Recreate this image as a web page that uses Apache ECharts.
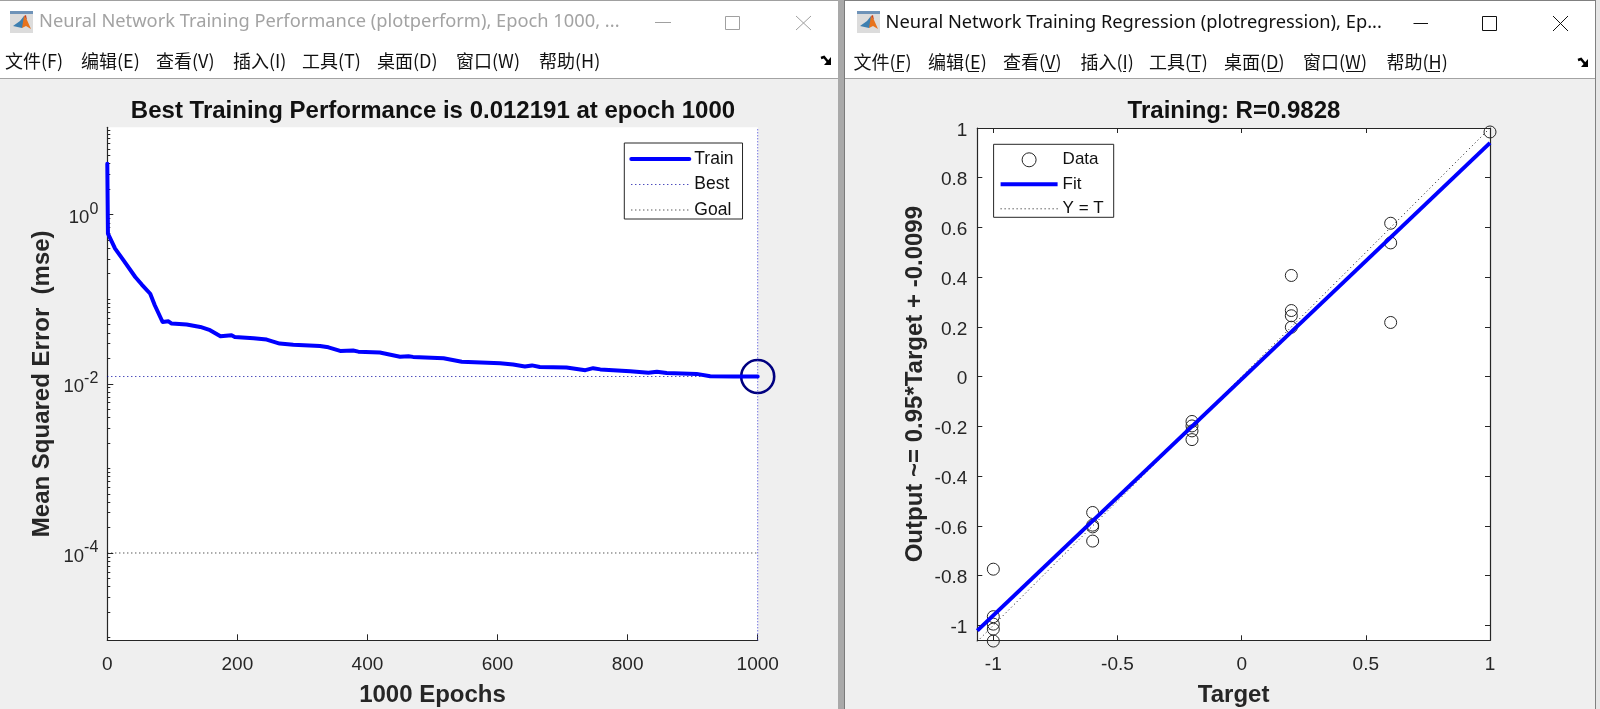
<!DOCTYPE html>
<html><head><meta charset="utf-8">
<style>html,body{margin:0;padding:0;background:#efefef}#c{width:1600px;height:709px}</style>
<script src="https://cdn.jsdelivr.net/npm/echarts@6/dist/echarts.min.js"></script>
</head><body><div id="c"></div>
<script>
const perfTitle = 'Best Training Performance is 0.012191 at epoch 1000';
const perfXName = '1000 Epochs';
const perfYName = 'Mean Squared Error  (mse)';
const trainEpochs = [0,1,12,25,43,53,66,73,85,94,99,122,143,158,174,191,196,225,245,265,286,327,340,358,378,386,419,450,463,470,517,545,604,624,642,653,665,706,735,747,758,804,832,845,860,906,927,963,1000];
const trainMse = [4.0,0.596,0.396,0.288,0.183,0.149,0.116,0.0848,0.0538,0.0548,0.0515,0.0501,0.047,0.043,0.0365,0.0375,0.0358,0.0345,0.0333,0.0299,0.029,0.028,0.027,0.0245,0.0247,0.024,0.0234,0.0209,0.0212,0.0208,0.02,0.0182,0.0175,0.0169,0.016,0.0165,0.0158,0.0156,0.0145,0.0153,0.0148,0.0141,0.0135,0.0139,0.0134,0.0131,0.0123,0.0122,0.012191];
const bestEpoch = 1000, bestMse = 0.012191, goalMse = 0.0001;
const logMin = Math.pow(10,-5.032), logMax = Math.pow(10,1.032);
const majorExponents = [-4,-2,0];
const allExponents = [-5,-4,-3,-2,-1,0,1];

const regTitle = 'Training: R=0.9828';
const regXName = 'Target';
const regYName = 'Output ~= 0.95*Target + -0.0099';
const targets = [1,0.6,0.6,0.6,0.2,0.2,0.2,0.2,-0.2,-0.2,-0.2,-0.2,-0.6,-0.6,-0.6,-0.6,-1,-1,-1,-1,-1];
const outputs = [0.984,0.617,0.538,0.218,0.407,0.266,0.245,0.199,-0.18,-0.198,-0.218,-0.253,-0.546,-0.597,-0.604,-0.661,-0.774,-0.965,-0.995,-1.015,-1.063];
const regXMin = -1.0645, regXMax = 1, regYMin = -1.06, regYMax = 1;
const fitX = [-1.0645,1], fitY = [-1.021,0.94];
const regXTicks = [-1,-0.5,0,0.5,1];
const regYTicks = [-1,-0.8,-0.6,-0.4,-0.2,0,0.2,0.4,0.6,0.8,1];

const leftWindowTitle = 'Neural Network Training Performance (plotperform), Epoch 1000, ...';
const rightWindowTitle = 'Neural Network Training Regression (plotregression), Ep...';
const menus = ['文件(F)','编辑(E)','查看(V)','插入(I)','工具(T)','桌面(D)','窗口(W)','帮助(H)'];
const leftMenuX = [5,81,156,233,302,377,456,539];
const rightMenuX = [853.5,928,1003,1080.5,1149,1224,1303,1386.5];
const hotkeyEnd = [904,979,1056,1126,1200,1279,1362,1440];
const hotkeyWidth = [9,10,11,3,10,12,16,12];

const AX='#262626', SANS='"Liberation Sans",Arial,sans-serif';
const tickFont = {color:AX,fontFamily:SANS,fontSize:19};
const nameFont = {color:AX,fontFamily:SANS,fontSize:24,fontWeight:'bold'};
const minorTicks=[];
allExponents.forEach(e=>{ for(let m=1;m<10;m++){ const v=m*Math.pow(10,e); if(v>=logMin&&v<=logMax) minorTicks.push(v);} });

function rect(x,y,w,h,fill,z){return {type:'rect',silent:true,z:z==null?-10:z,shape:{x,y,width:w,height:h},style:{fill}};}
function txt(text,x,y,font,fill){return {type:'text',silent:true,z:-5,style:{text,x,y,font,fill,align:'left',verticalAlign:'middle'}};}
function line(x1,y1,x2,y2,stroke,w){return {type:'line',silent:true,z:-5,shape:{x1,y1,x2,y2},style:{stroke,lineWidth:w||1}};}
function poly(points,fill){return {type:'polygon',silent:true,z:-4,shape:{points},style:{fill}};}
function icon(x,y){return [
  rect(x,y,23,22,'#dcdcdc',-5), rect(x,y,23,3,'#6f93b8',-5),
  poly([[x+3,y+15],[x+10,y+10],[x+14,y+5],[x+16,y+12],[x+12,y+17]],'#3d7fb0'),
  poly([[x+12,y+17],[x+14,y+5],[x+17,y+9],[x+21,y+18],[x+16,y+15]],'#e8731c'),
  poly([[x+14,y+5],[x+16,y+4],[x+17,y+9]],'#c9401a')
];}
function arrow(x,y){return [
  {type:'polyline',silent:true,z:-4,shape:{points:[[x,y+1],[x+3,y],[x+8,y+6]]},style:{stroke:'#000',lineWidth:2.4,fill:'none'}},
  poly([[x+10,y],[x+10,y+8],[x+3,y+8]],'#000')
];}
const cjk='18px "Noto Sans CJK SC"';
const graphics=[
  rect(0,0,1600,709,'#efefef',-20),
  rect(838,0,7,709,'#a9a9a9',-9), rect(844,0,1,709,'#7a7a7a',-9),
  rect(1595,0,5,709,'#e6e6e6',-9), rect(1595,0,1,709,'#808080',-9),
  rect(0,1,838,77,'#ffffff',-9), rect(0,0,838,1,'#a0a0a0',-8), rect(0,78,838,1,'#a3a3a3',-8),
  rect(845,1,750,77,'#ffffff',-9), rect(845,0,750,1,'#808080',-8), rect(845,78,750,1,'#a3a3a3',-8),
  ...icon(10,11), ...icon(857,11),
  txt(leftWindowTitle,39,22,'18.3px "Noto Sans"','#a3a3a3'),
  txt(rightWindowTitle,885.5,23,'18.3px "Noto Sans"','#111111'),
  line(655,22.5,671,22.5,'#a0a0a0'),
  {type:'rect',silent:true,z:-5,shape:{x:725.5,y:16.5,width:14,height:13},style:{fill:'none',stroke:'#a0a0a0'}},
  line(796,16,811,30,'#a0a0a0'), line(811,16,796,30,'#a0a0a0'),
  line(1413.5,23.5,1428,23.5,'#111'),
  {type:'rect',silent:true,z:-5,shape:{x:1482.5,y:16.5,width:14,height:14},style:{fill:'none',stroke:'#111'}},
  line(1553,16,1568,31,'#111'), line(1568,16,1553,31,'#111'),
  ...arrow(821,57), ...arrow(1578,59),
  ...menus.map((m,i)=>txt(m,leftMenuX[i],61,cjk,'#111')),
  ...menus.map((m,i)=>txt(m,rightMenuX[i],62,cjk,'#111')),
  ...hotkeyEnd.map((e,i)=>rect(e-hotkeyWidth[i],71,hotkeyWidth[i],1,'#111',-5))
];
const noDot={color:'rgba(0,0,0,0)',borderWidth:0,opacity:0};
const titleFont={color:'#111',fontFamily:SANS,fontSize:24,fontWeight:'bold'};

const option={
  animation:false,
  backgroundColor:'#efefef',
  graphic:{elements:graphics},
  title:[
    {text:perfTitle,left:428,top:94,textAlign:'center',textStyle:titleFont},
    {text:regTitle,left:1229,top:94,textAlign:'center',textStyle:titleFont}
  ],
  grid:[
    {left:107.3,top:127.3,width:650.4,height:513,show:true,backgroundColor:'#fff',borderWidth:0,outerBoundsMode:'none'},
    {left:977.3,top:128,width:512.7,height:512.3,show:true,backgroundColor:'#fff',borderWidth:0,outerBoundsMode:'none'}
  ],
  legend:[
    {orient:'vertical',left:624.3,top:143,
     data:[{name:'Train',itemStyle:noDot,lineStyle:{width:4}},{name:'Best',itemStyle:noDot,lineStyle:{width:1}},{name:'Goal',itemStyle:noDot,lineStyle:{width:1}}],
     itemWidth:58,itemHeight:14,itemGap:7.5,padding:[7,9,0,5],
     backgroundColor:'#fff',borderColor:AX,borderWidth:1,borderRadius:0,textStyle:{color:'#111',fontFamily:SANS,fontSize:17.5},selectedMode:false,align:'left'},
    {orient:'vertical',left:993.6,top:144.3,
     data:[{name:'Data',icon:'circle',itemStyle:{color:'rgba(0,0,0,0)',borderColor:AX,borderWidth:1}},{name:'Fit',itemStyle:noDot,lineStyle:{width:4}},{name:'Y = T',itemStyle:noDot,lineStyle:{width:1}}],
     itemWidth:57,itemHeight:14,itemGap:7.5,padding:[7,10,0,5],
     backgroundColor:'#fff',borderColor:AX,borderWidth:1,borderRadius:0,textStyle:{color:'#111',fontFamily:SANS,fontSize:17},selectedMode:false,align:'left'}
  ],
  xAxis:[
    {gridIndex:0,type:'value',min:0,max:1000,interval:200,position:'bottom',name:perfXName,nameLocation:'middle',nameGap:43,nameTextStyle:nameFont,
     axisLine:{onZero:false,lineStyle:{color:AX,width:1.2}},axisTick:{inside:true,length:6,lineStyle:{color:AX}},axisLabel:{...tickFont,margin:15,formatter:v=>String(v)},splitLine:{show:false}},
    {gridIndex:1,type:'value',min:regXMin,max:regXMax,position:'bottom',name:regXName,nameLocation:'middle',nameGap:43,nameTextStyle:nameFont,
     axisLine:{onZero:false,lineStyle:{color:AX,width:1.2}},axisTick:{inside:true,length:5,customValues:regXTicks,lineStyle:{color:AX}},axisLabel:{...tickFont,margin:15,customValues:regXTicks},splitLine:{show:false}},
    {gridIndex:1,type:'value',min:regXMin,max:regXMax,position:'top',
     axisLine:{onZero:false,lineStyle:{color:AX,width:1.2}},axisTick:{inside:true,length:5,customValues:regXTicks,lineStyle:{color:AX}},axisLabel:{show:false},splitLine:{show:false}}
  ],
  yAxis:[
    {gridIndex:0,type:'log',logBase:10,min:logMin,max:logMax,position:'left',name:perfYName,nameLocation:'middle',nameGap:53,nameRotate:90,nameTextStyle:nameFont,
     axisLine:{onZero:false,lineStyle:{color:AX,width:1.2}},
     axisTick:{inside:true,length:6,customValues:majorExponents.map(e=>Math.pow(10,e)),lineStyle:{color:AX}},
     axisLabel:{margin:9,customValues:majorExponents.map(e=>Math.pow(10,e)),
       formatter:v=>'{b|10}{s|'+Math.round(Math.log10(v))+'}',
       rich:{b:{...tickFont,fontSize:18.5,lineHeight:26,verticalAlign:'bottom'},s:{color:AX,fontFamily:SANS,fontSize:16,lineHeight:26,verticalAlign:'top'}}},
     splitLine:{show:false}},
    {gridIndex:0,type:'log',logBase:10,min:logMin,max:logMax,position:'left',
     axisLine:{show:false},axisTick:{inside:true,length:3,customValues:minorTicks,lineStyle:{color:AX}},axisLabel:{show:false},splitLine:{show:false}},
    {gridIndex:1,type:'value',min:regYMin,max:regYMax,position:'left',name:regYName,nameLocation:'middle',nameGap:50,nameRotate:90,nameTextStyle:nameFont,
     axisLine:{onZero:false,lineStyle:{color:AX,width:1.2}},axisTick:{inside:true,length:5,customValues:regYTicks,lineStyle:{color:AX}},
     axisLabel:{margin:10,customValues:regYTicks,formatter:v=>'{e| }\n{v|'+v+'}',
       rich:{e:{fontSize:4,lineHeight:5},v:{...tickFont,lineHeight:19}}},splitLine:{show:false}},
    {gridIndex:1,type:'value',min:regYMin,max:regYMax,position:'right',
     axisLine:{onZero:false,lineStyle:{color:AX,width:1.2}},axisTick:{inside:true,length:5,customValues:regYTicks,lineStyle:{color:AX}},axisLabel:{show:false},splitLine:{show:false}}
  ],
  series:[
    {name:'Best',type:'line',xAxisIndex:0,yAxisIndex:0,symbol:'none',clip:false,data:[[0,bestMse],[bestEpoch,bestMse]],lineStyle:{color:'#0000a0',width:1,type:[1,3]},itemStyle:{color:'#0000a0'}},
    {name:'BestEpoch',type:'line',xAxisIndex:0,yAxisIndex:0,symbol:'none',clip:false,data:[[bestEpoch,logMin],[bestEpoch,logMax]],lineStyle:{color:'#3a3ad8',width:1,type:[1,2]}},
    {name:'Goal',type:'line',xAxisIndex:0,yAxisIndex:0,symbol:'none',clip:false,data:[[0,goalMse],[1000,goalMse]],lineStyle:{color:'#111',width:1,type:[1,3]},itemStyle:{color:'#111'}},
    {name:'Train',type:'line',xAxisIndex:0,yAxisIndex:0,symbol:'none',clip:false,data:trainEpochs.map((e,i)=>[e,trainMse[i]]),lineStyle:{color:'#0000ff',width:4,join:'round',cap:'round'},itemStyle:{color:'#0000ff'}},
    {name:'BestPoint',type:'scatter',xAxisIndex:0,yAxisIndex:0,clip:false,symbol:'circle',symbolSize:33,data:[[bestEpoch,bestMse]],itemStyle:{color:'rgba(0,0,0,0)',borderColor:'#000080',borderWidth:2.6,opacity:1}},
    {name:'Y = T',type:'line',xAxisIndex:1,yAxisIndex:2,symbol:'none',clip:false,data:fitX.map(v=>[v,v]),lineStyle:{color:'#111',width:1,type:[1,3]},itemStyle:{color:'#111'}},
    {name:'Fit',type:'line',xAxisIndex:1,yAxisIndex:2,symbol:'none',clip:false,data:fitX.map((v,i)=>[v,fitY[i]]),lineStyle:{color:'#0000ff',width:4},itemStyle:{color:'#0000ff'}},
    {name:'Data',type:'scatter',xAxisIndex:1,yAxisIndex:2,clip:false,symbol:'circle',symbolSize:12,data:targets.map((t,i)=>[t,outputs[i]]),itemStyle:{color:'rgba(0,0,0,0)',borderColor:AX,borderWidth:1,opacity:1}}
  ]
};
const chart=echarts.init(document.getElementById('c'),null,{renderer:'canvas',width:1600,height:709});
chart.setOption(option);
</script></body></html>
